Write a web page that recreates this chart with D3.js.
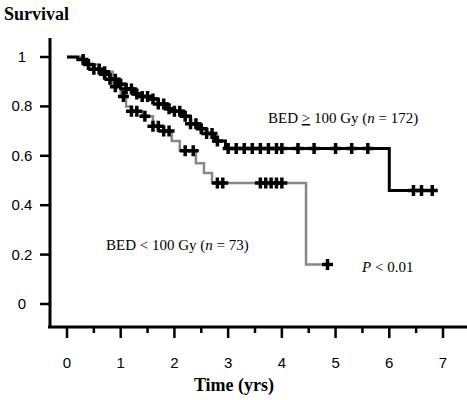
<!DOCTYPE html><html><head><meta charset="utf-8">
<script src="https://cdn.jsdelivr.net/npm/d3@7"></script>
<style>body{margin:0;background:#fff}</style></head><body><svg width="467" height="400"></svg>
<script>
const highTimes=[0,0.2,0.35,0.5,0.65,0.8,0.95,1.1,1.25,1.4,1.55,1.7,1.85,2.0,2.15,2.3,2.45,2.6,2.75,2.95,6.0,6.8];
const highSurv=[1,0.99,0.97,0.95,0.93,0.91,0.89,0.87,0.85,0.84,0.83,0.81,0.79,0.78,0.76,0.73,0.71,0.69,0.66,0.63,0.46,0.46];
const highCensor=[0.3,0.4,0.5,0.6,0.7,0.8,0.9,1.0,1.1,1.2,1.3,1.4,1.5,1.6,1.7,1.8,1.9,2.0,2.1,2.2,2.3,2.4,2.5,2.6,2.7,2.8,3.0,3.15,3.3,3.45,3.6,3.75,3.9,4.0,4.3,4.6,5.0,5.3,5.6,6.45,6.6,6.8];
const lowTimes=[0,0.3,0.6,0.85,1.0,1.1,1.2,1.4,1.6,1.8,1.95,2.1,2.4,2.55,2.7,4.45,4.85];
const lowSurv=[1,0.97,0.94,0.88,0.84,0.8,0.78,0.76,0.72,0.7,0.66,0.62,0.57,0.53,0.49,0.16,0.16];
const lowCensor=[0.7,0.9,1.05,1.2,1.3,1.45,1.6,1.7,1.8,1.9,2.2,2.35,2.8,2.9,3.6,3.7,3.8,3.9,4.0,4.85];
const xTicks=[0,1,2,3,4,5,6,7];
const yTicks=[0,0.2,0.4,0.6,0.8,1];
const svg=d3.select("svg");
const x=d3.scaleLinear().domain([0,7]).range([67,443]);
const y=d3.scaleLinear().domain([0,1]).range([304,57]);
function surv(ts,ss,t){let v=ss[0];for(let i=0;i<ts.length;i++){if(ts[i]<=t)v=ss[i];}return v;}
svg.append("line").attr("x1",50).attr("x2",50).attr("y1",38).attr("y2",328).attr("stroke","#000").attr("stroke-width",3);
svg.append("line").attr("x1",48).attr("x2",467).attr("y1",327).attr("y2",327).attr("stroke","#000").attr("stroke-width",3);
yTicks.forEach(v=>{svg.append("line").attr("x1",40).attr("x2",50).attr("y1",y(v)).attr("y2",y(v)).attr("stroke","#000").attr("stroke-width",2.5);
 svg.append("text").attr("x",22).attr("y",y(v)+5).attr("text-anchor","middle").attr("font-family","Liberation Sans").attr("font-size",15).text(v);});
d3.range(0,7.01,0.5).forEach(v=>{const maj=Number.isInteger(v);svg.append("line").attr("x1",x(v)).attr("x2",x(v)).attr("y1",327).attr("y2",maj?338:333).attr("stroke","#000").attr("stroke-width",2.5);});
xTicks.forEach(v=>svg.append("text").attr("x",x(v)).attr("y",368).attr("text-anchor","middle").attr("font-family","Liberation Sans").attr("font-size",15).text(v));
svg.append("text").attr("x",234).attr("y",391).attr("text-anchor","middle").attr("font-family","Liberation Serif").attr("font-weight","bold").attr("font-size",18).text("Time (yrs)");
svg.append("text").attr("x",4).attr("y",20).attr("font-family","Liberation Serif").attr("font-weight","bold").attr("font-size",18).text("Survival");
const line=d3.line().x(d=>x(d[0])).y(d=>y(d[1])).curve(d3.curveStepAfter);
svg.append("path").attr("d",line(lowTimes.map((t,i)=>[t,lowSurv[i]]))).attr("fill","none").attr("stroke","#888").attr("stroke-width",2.5);
svg.append("path").attr("d",line(highTimes.map((t,i)=>[t,highSurv[i]]))).attr("fill","none").attr("stroke","#000").attr("stroke-width",3);
function cross(t,v){const cx=x(t),cy=y(v);svg.append("path").attr("d",`M${cx-5.5},${cy}H${cx+5.5}M${cx},${cy-5.5}V${cy+5.5}`).attr("stroke","#000").attr("stroke-width",3.5);}
highCensor.forEach(t=>cross(t,surv(highTimes,highSurv,t)));
lowCensor.forEach(t=>cross(t,surv(lowTimes,lowSurv,t)));
const f="Liberation Serif";
const t1=svg.append("text").attr("x",268).attr("y",123).attr("font-family",f).attr("font-size",15);
t1.append("tspan").text("BED ");t1.append("tspan").attr("text-decoration","underline").text(">");t1.append("tspan").text(" 100 Gy (");t1.append("tspan").attr("font-style","italic").text("n");t1.append("tspan").text(" = 172)");
const t2=svg.append("text").attr("x",106).attr("y",250).attr("font-family",f).attr("font-size",15);
t2.append("tspan").text("BED < 100 Gy (");t2.append("tspan").attr("font-style","italic").text("n");t2.append("tspan").text(" = 73)");
const t3=svg.append("text").attr("x",362).attr("y",272).attr("font-family",f).attr("font-size",15);
t3.append("tspan").attr("font-style","italic").text("P");t3.append("tspan").text(" < 0.01");
</script></body></html>
